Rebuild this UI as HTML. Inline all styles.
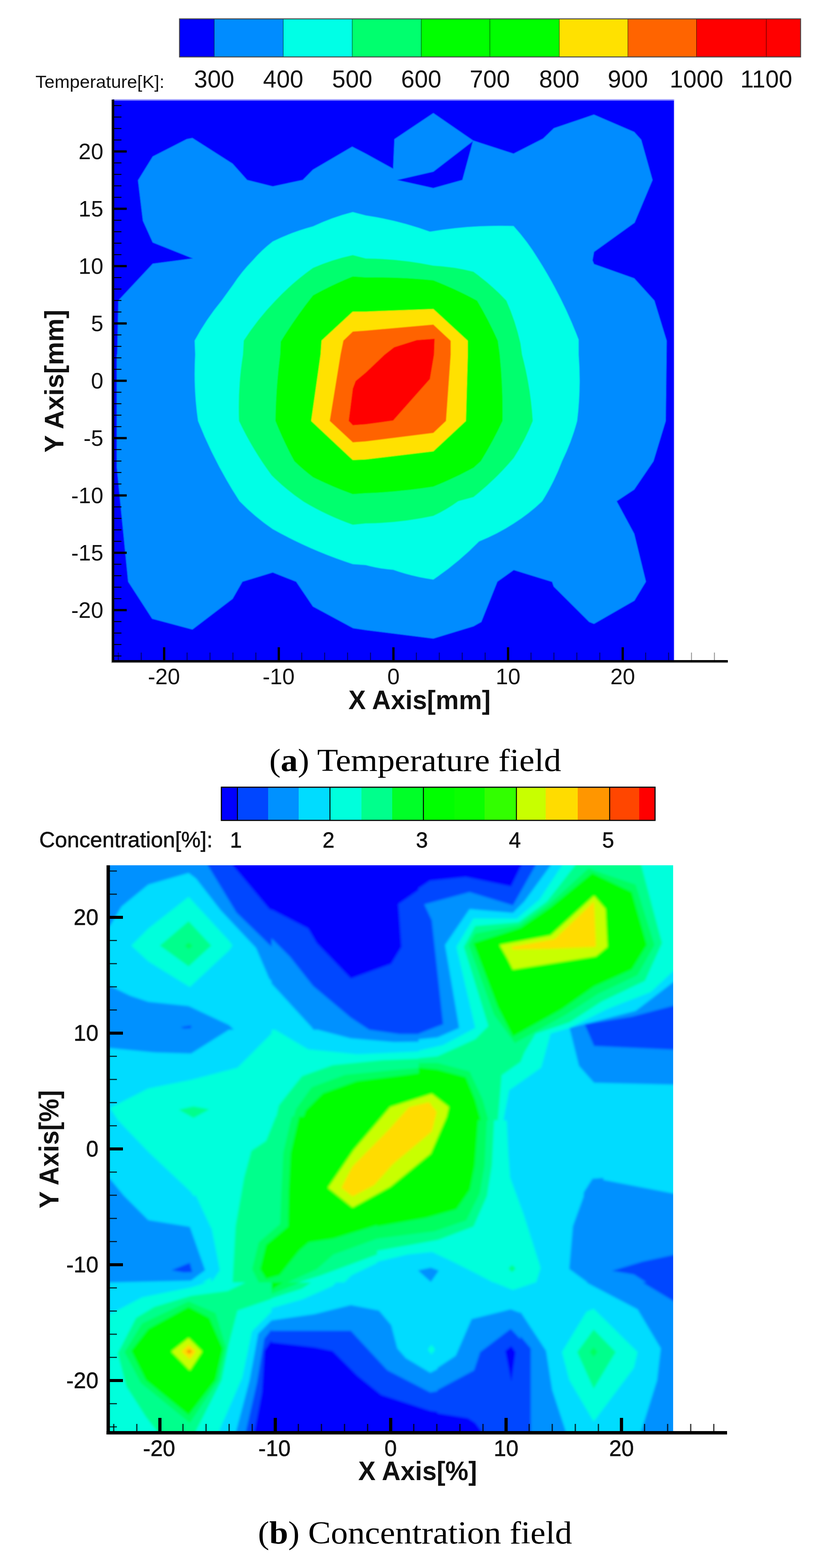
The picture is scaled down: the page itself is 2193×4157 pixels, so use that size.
<!DOCTYPE html>
<html><head><meta charset="utf-8"><title>Temperature and concentration fields</title>
<style>
html,body{margin:0;padding:0;background:#fff;}
body{width:2193px;height:4157px;overflow:hidden;}
svg{display:block;}
text{font-family:"Liberation Sans","DejaVu Sans",sans-serif;fill:#111;}
.cap{font-family:"Liberation Serif","DejaVu Serif",serif;fill:#000;}
</style></head><body>
<svg width="2193" height="4157" viewBox="0 0 2193 4157">
<rect x="0" y="0" width="2193" height="4157" fill="#fff"/>
<g id="plot1">
<defs><clipPath id="p1clip"><rect x="298.5" y="263.5" width="1488.5" height="1490.5"/></clipPath>
<filter id="blur1" x="-5%" y="-5%" width="110%" height="110%"><feGaussianBlur stdDeviation="1.1"/></filter></defs>
<rect x="298.5" y="263.5" width="1491.5" height="1490.5" fill="#e4e4ff"/>
<g clip-path="url(#p1clip)"><g filter="url(#blur1)">
<rect x="278.5" y="243.5" width="1528.5" height="1530.5" fill="#0000ff"/>
<polygon points="311.0,940.0 314.0,797.9 317.5,792.9 405.1,699.3 511.7,685.3 405.1,642.8 379.1,585.2 366.1,478.2 405.1,415.1 495.2,369.1 510.2,366.1 616.7,434.1 655.3,477.2 723.3,494.2 802.9,477.2 829.9,450.1 934.0,389.1 970.0,407.6 1042.6,447.6 1046.1,369.1 1149.1,300.0 1254.2,372.6 1361.8,407.6 1440.3,367.6 1468.9,340.1 1574.9,304.0 1681.7,350.1 1700.2,370.6 1730.2,477.2 1682.7,590.2 1575.1,667.8 1571.1,690.3 1575.1,700.3 1681.7,737.9 1735.2,796.9 1767.7,903.5 1765.2,1116.1 1732.7,1222.7 1681.7,1297.8 1635.1,1328.8 1681.7,1415.3 1712.7,1541.9 1681.7,1593.0 1681.7,1592.6 1575.1,1653.7 1562.6,1648.7 1468.5,1555.1 1464.0,1542.1 1462.9,1542.1 1362.3,1511.1 1318.8,1542.1 1276.2,1648.7 1255.7,1660.2 1149.1,1692.7 970.0,1670.2 936.5,1665.2 829.9,1607.7 785.4,1542.1 723.3,1517.6 642.8,1542.1 616.7,1587.6 510.2,1668.7 403.6,1640.2 340.0,1542.1 310.0,1240.2 310.0,940.0" fill="#008cff" />
<polygon points="1052.6,477.2 1149.1,455.1 1254.2,374.1 1226.2,477.2 1149.1,498.7" fill="#0000ff" />
<path d="M517.7,940.0 L516.2,903.0 Q546.6,846.4 587.7,796.9 L617.7,755.4 Q640.8,720.2 670.3,690.3 Q694.3,662.6 723.3,640.3 Q774.6,614.9 829.9,600.3 Q880.8,576.0 935.5,562.2 L970.0,571.2 Q1057.2,584.2 1140.1,614.3 Q1250.2,595.7 1361.8,599.2 Q1399.2,640.2 1427.8,687.8 Q1491.8,788.8 1534.4,900.5 L1534.4,940.0 Q1541.2,1028.3 1530.4,1116.1 Q1515.7,1171.4 1490.4,1222.7 Q1469.4,1278.4 1437.8,1328.8 Q1403.0,1362.1 1362.3,1387.8 Q1318.6,1416.2 1270.2,1435.4 Q1214.7,1492.0 1149.1,1536.4 Q1094.5,1528.8 1042.6,1510.4 Q1005.7,1507.8 970.0,1497.9 L935.5,1495.4 Q824.8,1459.7 723.3,1402.8 Q675.6,1370.2 635.3,1328.8 Q569.6,1228.0 525.2,1116.1 Q512.6,1028.4 517.7,940.0 L517.7,940.0Z" fill="#00ffe6"/>
<path d="M644.3,940.0 L646.3,903.0 Q683.0,845.7 730.3,796.9 Q775.8,748.6 829.9,710.3 Q881.0,688.0 935.5,676.3 L970.0,685.3 Q1060.5,685.9 1149.1,704.3 Q1203.0,707.0 1255.2,720.3 Q1302.8,754.2 1342.8,796.9 Q1367.2,851.8 1380.3,910.5 L1384.3,940.0 Q1407.4,1026.6 1412.8,1116.1 Q1392.5,1167.7 1362.3,1214.2 Q1314.2,1271.3 1255.7,1317.8 L1215.2,1328.8 Q1184.1,1351.6 1149.1,1367.8 Q1060.6,1386.8 970.0,1387.8 L935.5,1391.3 Q867.4,1367.3 805.4,1330.3 Q759.3,1299.5 720.3,1260.2 Q669.8,1192.5 633.8,1116.1 Q630.2,1027.5 644.3,940.0 L644.3,940.0Z" fill="#00ff6e"/>
<path d="M742.8,940.0 L744.3,905.5 Q783.4,841.6 829.9,782.9 Q881.2,754.7 935.5,732.8 L970.0,735.3 Q1059.8,733.7 1149.1,742.9 Q1208.8,766.4 1265.2,796.9 Q1295.9,848.5 1320.3,903.5 L1325.3,940.0 Q1334.3,1027.8 1332.8,1116.1 Q1307.2,1171.1 1275.2,1222.7 L1255.7,1240.2 Q1203.9,1268.4 1149.1,1290.3 Q1060.1,1304.4 970.0,1307.8 L935.5,1310.3 Q881.3,1290.9 829.9,1265.2 Q803.9,1245.5 780.4,1222.7 Q752.1,1170.9 730.3,1116.1 Q731.3,1027.7 742.8,940.0 L742.8,940.0Z" fill="#00ff00"/>
<polygon points="850.4,940.0 852.9,903.0 935.5,826.4 970.0,826.4 1149.1,819.4 1240.2,903.5 1240.2,940.0 1235.2,1116.1 1149.1,1196.2 970.0,1217.7 935.5,1219.2 825.4,1116.1 850.4,940.0" fill="#ffe100" />
<polygon points="903.0,940.0 910.5,903.0 935.5,879.0 970.0,876.5 1149.1,860.4 1195.2,903.5 1195.2,940.0 1182.7,1116.1 1149.1,1147.7 970.0,1170.2 935.5,1172.7 874.4,1116.1 903.0,940.0" fill="#ff6400" />
<polygon points="1020.0,940.0 1045.1,920.5 1105.1,901.5 1152.6,898.0 1151.1,940.0 1140.1,1005.0 1042.6,1115.1 970.0,1125.1 935.5,1127.6 924.5,1116.1 935.5,1030.1 943.0,1010.1 970.0,987.5" fill="#ff0000" />
</g>
<rect x="298.5" y="263.5" width="1488.5" height="3" fill="#a8a8ff"/>
</g>
<g stroke="#000" fill="none">
<line x1="296" y1="264" x2="296" y2="1757" stroke-width="2" stroke="#999"/>
<line x1="300" y1="264" x2="300" y2="1756" stroke-width="6"/>
<line x1="295" y1="1757" x2="1930" y2="1757" stroke-width="2" stroke="#bbb"/>
<line x1="297" y1="1753" x2="1930" y2="1753" stroke-width="6"/>
<line x1="300" y1="1739.1" x2="322" y2="1739.1" stroke-width="2.5"/>
<line x1="300" y1="1708.7" x2="322" y2="1708.7" stroke-width="2.5"/>
<line x1="300" y1="1678.3" x2="322" y2="1678.3" stroke-width="2.5"/>
<line x1="300" y1="1647.9" x2="322" y2="1647.9" stroke-width="2.5"/>
<line x1="300" y1="1617.5" x2="336" y2="1617.5" stroke-width="6"/>
<line x1="300" y1="1587.1" x2="322" y2="1587.1" stroke-width="2.5"/>
<line x1="300" y1="1556.7" x2="322" y2="1556.7" stroke-width="2.5"/>
<line x1="300" y1="1526.3" x2="322" y2="1526.3" stroke-width="2.5"/>
<line x1="300" y1="1495.9" x2="322" y2="1495.9" stroke-width="2.5"/>
<line x1="300" y1="1465.5" x2="336" y2="1465.5" stroke-width="6"/>
<line x1="300" y1="1435.1" x2="322" y2="1435.1" stroke-width="2.5"/>
<line x1="300" y1="1404.7" x2="322" y2="1404.7" stroke-width="2.5"/>
<line x1="300" y1="1374.3" x2="322" y2="1374.3" stroke-width="2.5"/>
<line x1="300" y1="1343.9" x2="322" y2="1343.9" stroke-width="2.5"/>
<line x1="300" y1="1313.5" x2="336" y2="1313.5" stroke-width="6"/>
<line x1="300" y1="1283.1" x2="322" y2="1283.1" stroke-width="2.5"/>
<line x1="300" y1="1252.7" x2="322" y2="1252.7" stroke-width="2.5"/>
<line x1="300" y1="1222.3" x2="322" y2="1222.3" stroke-width="2.5"/>
<line x1="300" y1="1191.9" x2="322" y2="1191.9" stroke-width="2.5"/>
<line x1="300" y1="1161.5" x2="336" y2="1161.5" stroke-width="6"/>
<line x1="300" y1="1131.1" x2="322" y2="1131.1" stroke-width="2.5"/>
<line x1="300" y1="1100.7" x2="322" y2="1100.7" stroke-width="2.5"/>
<line x1="300" y1="1070.3" x2="322" y2="1070.3" stroke-width="2.5"/>
<line x1="300" y1="1039.9" x2="322" y2="1039.9" stroke-width="2.5"/>
<line x1="300" y1="1009.5" x2="336" y2="1009.5" stroke-width="6"/>
<line x1="300" y1="979.1" x2="322" y2="979.1" stroke-width="2.5"/>
<line x1="300" y1="948.7" x2="322" y2="948.7" stroke-width="2.5"/>
<line x1="300" y1="918.3" x2="322" y2="918.3" stroke-width="2.5"/>
<line x1="300" y1="887.9" x2="322" y2="887.9" stroke-width="2.5"/>
<line x1="300" y1="857.5" x2="336" y2="857.5" stroke-width="6"/>
<line x1="300" y1="827.1" x2="322" y2="827.1" stroke-width="2.5"/>
<line x1="300" y1="796.7" x2="322" y2="796.7" stroke-width="2.5"/>
<line x1="300" y1="766.3" x2="322" y2="766.3" stroke-width="2.5"/>
<line x1="300" y1="735.9" x2="322" y2="735.9" stroke-width="2.5"/>
<line x1="300" y1="705.5" x2="336" y2="705.5" stroke-width="6"/>
<line x1="300" y1="675.1" x2="322" y2="675.1" stroke-width="2.5"/>
<line x1="300" y1="644.7" x2="322" y2="644.7" stroke-width="2.5"/>
<line x1="300" y1="614.3" x2="322" y2="614.3" stroke-width="2.5"/>
<line x1="300" y1="583.9" x2="322" y2="583.9" stroke-width="2.5"/>
<line x1="300" y1="553.5" x2="336" y2="553.5" stroke-width="6"/>
<line x1="300" y1="523.1" x2="322" y2="523.1" stroke-width="2.5"/>
<line x1="300" y1="492.7" x2="322" y2="492.7" stroke-width="2.5"/>
<line x1="300" y1="462.3" x2="322" y2="462.3" stroke-width="2.5"/>
<line x1="300" y1="431.9" x2="322" y2="431.9" stroke-width="2.5"/>
<line x1="300" y1="401.5" x2="336" y2="401.5" stroke-width="6"/>
<line x1="300" y1="371.1" x2="322" y2="371.1" stroke-width="2.5"/>
<line x1="300" y1="340.7" x2="322" y2="340.7" stroke-width="2.5"/>
<line x1="300" y1="310.3" x2="322" y2="310.3" stroke-width="2.5"/>
<line x1="300" y1="279.9" x2="322" y2="279.9" stroke-width="2.5"/>
<line x1="313.7" y1="1730" x2="313.7" y2="1753" stroke-width="2.5" stroke="#000" stroke-opacity="0.55"/>
<line x1="374.5" y1="1730" x2="374.5" y2="1753" stroke-width="2.5" stroke="#000" stroke-opacity="0.55"/>
<line x1="435.3" y1="1716" x2="435.3" y2="1753" stroke-width="6"/>
<line x1="496.1" y1="1730" x2="496.1" y2="1753" stroke-width="2.5" stroke="#000" stroke-opacity="0.55"/>
<line x1="556.9" y1="1730" x2="556.9" y2="1753" stroke-width="2.5" stroke="#000" stroke-opacity="0.55"/>
<line x1="617.7" y1="1730" x2="617.7" y2="1753" stroke-width="2.5" stroke="#000" stroke-opacity="0.55"/>
<line x1="678.5" y1="1730" x2="678.5" y2="1753" stroke-width="2.5" stroke="#000" stroke-opacity="0.55"/>
<line x1="739.3" y1="1716" x2="739.3" y2="1753" stroke-width="6"/>
<line x1="800.1" y1="1730" x2="800.1" y2="1753" stroke-width="2.5" stroke="#000" stroke-opacity="0.55"/>
<line x1="860.9" y1="1730" x2="860.9" y2="1753" stroke-width="2.5" stroke="#000" stroke-opacity="0.55"/>
<line x1="921.7" y1="1730" x2="921.7" y2="1753" stroke-width="2.5" stroke="#000" stroke-opacity="0.55"/>
<line x1="982.5" y1="1730" x2="982.5" y2="1753" stroke-width="2.5" stroke="#000" stroke-opacity="0.55"/>
<line x1="1043.3" y1="1716" x2="1043.3" y2="1753" stroke-width="6"/>
<line x1="1104.1" y1="1730" x2="1104.1" y2="1753" stroke-width="2.5" stroke="#000" stroke-opacity="0.55"/>
<line x1="1164.9" y1="1730" x2="1164.9" y2="1753" stroke-width="2.5" stroke="#000" stroke-opacity="0.55"/>
<line x1="1225.7" y1="1730" x2="1225.7" y2="1753" stroke-width="2.5" stroke="#000" stroke-opacity="0.55"/>
<line x1="1286.5" y1="1730" x2="1286.5" y2="1753" stroke-width="2.5" stroke="#000" stroke-opacity="0.55"/>
<line x1="1347.3" y1="1716" x2="1347.3" y2="1753" stroke-width="6"/>
<line x1="1408.1" y1="1730" x2="1408.1" y2="1753" stroke-width="2.5" stroke="#000" stroke-opacity="0.55"/>
<line x1="1468.9" y1="1730" x2="1468.9" y2="1753" stroke-width="2.5" stroke="#000" stroke-opacity="0.55"/>
<line x1="1529.7" y1="1730" x2="1529.7" y2="1753" stroke-width="2.5" stroke="#000" stroke-opacity="0.55"/>
<line x1="1590.5" y1="1730" x2="1590.5" y2="1753" stroke-width="2.5" stroke="#000" stroke-opacity="0.55"/>
<line x1="1651.3" y1="1716" x2="1651.3" y2="1753" stroke-width="6"/>
<line x1="1712.1" y1="1730" x2="1712.1" y2="1753" stroke-width="2.5" stroke="#000" stroke-opacity="0.55"/>
<line x1="1772.9" y1="1730" x2="1772.9" y2="1753" stroke-width="2.5" stroke="#000" stroke-opacity="0.55"/>
<line x1="1833.7" y1="1730" x2="1833.7" y2="1753" stroke-width="2.5" stroke="#000" stroke-opacity="0.4"/>
<line x1="1894.5" y1="1730" x2="1894.5" y2="1753" stroke-width="2.5" stroke="#000" stroke-opacity="0.4"/>
</g>
<text x="274" y="1638.0" font-size="59" text-anchor="end">-20</text>
<text x="274" y="1486.0" font-size="59" text-anchor="end">-15</text>
<text x="274" y="1334.0" font-size="59" text-anchor="end">-10</text>
<text x="274" y="1182.0" font-size="59" text-anchor="end">-5</text>
<text x="274" y="1030.0" font-size="59" text-anchor="end">0</text>
<text x="274" y="878.0" font-size="59" text-anchor="end">5</text>
<text x="274" y="726.0" font-size="59" text-anchor="end">10</text>
<text x="274" y="574.0" font-size="59" text-anchor="end">15</text>
<text x="274" y="422.0" font-size="59" text-anchor="end">20</text>
<text x="434.8" y="1813.5" font-size="59" text-anchor="middle">-20</text>
<text x="738.8" y="1813.5" font-size="59" text-anchor="middle">-10</text>
<text x="1043.3" y="1813.5" font-size="59" text-anchor="middle">0</text>
<text x="1347.3" y="1813.5" font-size="59" text-anchor="middle">10</text>
<text x="1651.3" y="1813.5" font-size="59" text-anchor="middle">20</text>
<text x="924" y="1879.5" font-size="71" font-weight="bold" textLength="377" lengthAdjust="spacingAndGlyphs">X Axis[mm]</text>
<text transform="translate(167.5,1200) rotate(-90)" font-size="71" font-weight="bold" textLength="379" lengthAdjust="spacingAndGlyphs">Y Axis[mm]</text>
<rect x="476" y="50" width="93" height="101" fill="#0000ff"/>
<rect x="568" y="50" width="184" height="101" fill="#008cff"/>
<rect x="751" y="50" width="184" height="101" fill="#00ffe6"/>
<rect x="934" y="50" width="184" height="101" fill="#00ff6e"/>
<rect x="1117" y="50" width="183" height="101" fill="#00ff00"/>
<rect x="1299" y="50" width="185" height="101" fill="#00ff00"/>
<rect x="1483" y="50" width="183" height="101" fill="#ffe100"/>
<rect x="1665" y="50" width="183" height="101" fill="#ff6400"/>
<rect x="1847" y="50" width="186" height="101" fill="#ff0000"/>
<rect x="2032" y="50" width="92" height="101" fill="#ff0000"/>
<line x1="568" y1="50" x2="568" y2="151" stroke="#000" stroke-opacity="0.45" stroke-width="2"/>
<line x1="751" y1="50" x2="751" y2="151" stroke="#000" stroke-opacity="0.45" stroke-width="2"/>
<line x1="934" y1="50" x2="934" y2="151" stroke="#000" stroke-opacity="0.45" stroke-width="2"/>
<line x1="1117" y1="50" x2="1117" y2="151" stroke="#000" stroke-opacity="0.45" stroke-width="2"/>
<line x1="1299" y1="50" x2="1299" y2="151" stroke="#000" stroke-opacity="0.45" stroke-width="2"/>
<line x1="1483" y1="50" x2="1483" y2="151" stroke="#000" stroke-opacity="0.45" stroke-width="2"/>
<line x1="1665" y1="50" x2="1665" y2="151" stroke="#000" stroke-opacity="0.45" stroke-width="2"/>
<line x1="1847" y1="50" x2="1847" y2="151" stroke="#000" stroke-opacity="0.45" stroke-width="2"/>
<line x1="2032" y1="50" x2="2032" y2="151" stroke="#000" stroke-opacity="0.45" stroke-width="2"/>
<rect x="476" y="50" width="1647" height="101" fill="none" stroke="#444" stroke-width="2.5"/>
<text x="568" y="232" font-size="64" text-anchor="middle">300</text>
<text x="751" y="232" font-size="64" text-anchor="middle">400</text>
<text x="934" y="232" font-size="64" text-anchor="middle">500</text>
<text x="1117" y="232" font-size="64" text-anchor="middle">600</text>
<text x="1299" y="232" font-size="64" text-anchor="middle">700</text>
<text x="1483" y="232" font-size="64" text-anchor="middle">800</text>
<text x="1665" y="232" font-size="64" text-anchor="middle">900</text>
<text x="1847" y="232" font-size="64" text-anchor="middle">1000</text>
<text x="2032" y="232" font-size="64" text-anchor="middle">1100</text>
<text x="94" y="233" font-size="46" textLength="342" lengthAdjust="spacingAndGlyphs">Temperature[K]:</text>
<text class="cap" x="714" y="2044" font-size="85" textLength="774" lengthAdjust="spacingAndGlyphs">(<tspan font-weight="bold">a</tspan>) Temperature field</text>
</g>
<defs>
<clipPath id="p2clip"><rect x="286.5" y="2294.0" width="1498.5" height="1504.0"/></clipPath>
<clipPath id="t0"><rect x="260.0" y="2270.0" width="460.0" height="460.0"/></clipPath>
<clipPath id="t1"><rect x="720.0" y="2270.0" width="440.0" height="460.0"/></clipPath>
<clipPath id="t2"><rect x="1160.0" y="2270.0" width="220.0" height="460.0"/></clipPath>
<clipPath id="t3"><rect x="1380.0" y="2270.0" width="430.0" height="460.0"/></clipPath>
<clipPath id="t4"><rect x="260.0" y="2730.0" width="460.0" height="440.0"/></clipPath>
<clipPath id="t5"><rect x="720.0" y="2730.0" width="440.0" height="440.0"/></clipPath>
<clipPath id="t6"><rect x="1160.0" y="2730.0" width="440.0" height="440.0"/></clipPath>
<clipPath id="t7"><rect x="1600.0" y="2730.0" width="210.0" height="440.0"/></clipPath>
<clipPath id="t8"><rect x="260.0" y="3170.0" width="460.0" height="230.0"/></clipPath>
<clipPath id="t9"><rect x="720.0" y="3170.0" width="440.0" height="230.0"/></clipPath>
<clipPath id="t10"><rect x="1160.0" y="3170.0" width="220.0" height="230.0"/></clipPath>
<clipPath id="t11"><rect x="1380.0" y="3170.0" width="430.0" height="230.0"/></clipPath>
<clipPath id="t12"><rect x="260.0" y="3400.0" width="460.0" height="420.0"/></clipPath>
<clipPath id="t13"><rect x="720.0" y="3400.0" width="440.0" height="420.0"/></clipPath>
<clipPath id="t14"><rect x="1160.0" y="3400.0" width="220.0" height="420.0"/></clipPath>
<clipPath id="t15"><rect x="1380.0" y="3400.0" width="430.0" height="420.0"/></clipPath>
<clipPath id="t16"><rect x="560.0" y="2960.0" width="440.0" height="440.0"/></clipPath>
<clipPath id="t17"><rect x="1000.0" y="2960.0" width="440.0" height="440.0"/></clipPath>
<clipPath id="t18"><rect x="1110.0" y="2270.0" width="700.0" height="700.0"/></clipPath>
<filter id="blur2" x="-5%" y="-5%" width="110%" height="110%"><feGaussianBlur stdDeviation="3"/></filter>
</defs>
<g id="plot2">
<g clip-path="url(#p2clip)"><g filter="url(#blur2)">
<g clip-path="url(#t0)">
<rect x="259.0" y="2269.0" width="462.0" height="462.0" fill="#00dcff"/>
<polygon points="263.8,2273.8 733.3,2273.8 733.3,2617.0 713.8,2594.0 678.9,2513.1 585.0,2413.0 519.9,2328.9 500.2,2314.3 393.3,2345.0 322.1,2403.3 291.3,2455.1 263.8,2471.3" fill="#0091ff" />
<polygon points="263.8,2613.8 291.3,2613.8 344.8,2639.7 393.3,2655.9 500.2,2667.2 607.3,2717.4 620.0,2730.0 629.7,2743.3 263.8,2743.3" fill="#0091ff" />
<polygon points="551.0,2273.8 551.0,2293.9 627.1,2419.5 727.1,2516.6 733.3,2523.1 733.3,2273.8" fill="#0046ff" />
<polygon points="617.0,2273.8 617.0,2293.9 713.8,2409.8 733.3,2419.5 733.3,2273.8" fill="#0000ff" />
<polygon points="348.0,2506.9 393.3,2461.6 500.2,2377.4 607.3,2494.0 616.7,2506.9 607.3,2519.9 503.4,2617.0 393.3,2549.0" fill="#00ffdc" />
<polygon points="424.1,2506.9 500.2,2442.2 560.1,2506.9 500.2,2562.0" fill="#00ff8c" />
<polygon points="490.4,2507.6 500.2,2498.8 510.5,2507.6 500.2,2516.6" fill="#00ff5f" />
<polygon points="479.1,2723.2 506.6,2719.0 506.6,2725.5 487.2,2726.4" fill="#0046ff" />
</g>
<g clip-path="url(#t1)">
<rect x="719.0" y="2269.0" width="442.0" height="462.0" fill="#0000ff"/>
<polygon points="703.8,2403.3 720.0,2411.4 817.1,2461.6 839.8,2500.4 930.4,2594.3 1037.3,2555.5 1064.8,2510.2 1056.7,2396.8 1140.9,2338.6 1173.3,2335.3 1173.3,2743.3 703.8,2743.3" fill="#0046ff" />
<polygon points="703.8,2477.8 720.0,2487.5 768.6,2536.1 830.1,2613.8 930.4,2697.9 979.0,2730.0 995.2,2743.3 703.8,2743.3" fill="#0091ff" />
<polygon points="1173.3,2380.7 1160.0,2383.9 1124.7,2400.1 1140.9,2458.4 1150.6,2549.0 1160.0,2613.8 1173.3,2617.0" fill="#0091ff" />
<polygon points="703.8,2591.1 720.0,2607.3 826.8,2723.8 839.8,2743.3 703.8,2743.3" fill="#00dcff" />
</g>
<g clip-path="url(#t2)">
<rect x="1159.0" y="2269.0" width="222.0" height="462.0" fill="#0000ff"/>
<polygon points="1143.8,2335.3 1160.0,2335.3 1257.1,2322.4 1357.5,2351.5 1383.4,2293.9 1383.4,2273.8 1613.3,2273.8 1613.3,2743.3 1143.8,2743.3" fill="#0046ff" />
<polygon points="1143.8,2383.9 1160.0,2383.9 1250.7,2362.8 1357.5,2403.3 1425.5,2293.9 1425.5,2273.8 1613.3,2273.8 1613.3,2743.3 1143.8,2743.3" fill="#0091ff" />
<polygon points="1143.8,2607.3 1160.0,2613.8 1173.0,2678.5 1179.4,2743.3 1143.8,2743.3" fill="#0046ff" />
<polygon points="1218.3,2743.3 1215.0,2710.9 1179.4,2503.7 1247.4,2406.6 1354.3,2422.7 1396.4,2380.7 1464.3,2293.9 1464.3,2273.8 1613.3,2273.8 1613.3,2743.3" fill="#00dcff" />
<polygon points="1266.8,2743.3 1266.8,2730.0 1234.5,2613.8 1208.6,2516.6 1260.4,2432.5 1367.2,2429.2 1425.5,2377.4 1503.2,2293.9 1503.2,2273.8 1613.3,2273.8 1613.3,2743.3" fill="#00ffdc" />
<polygon points="1302.5,2743.3 1299.2,2730.0 1224.8,2510.2 1266.8,2451.9 1373.7,2442.2 1451.4,2380.7 1548.5,2293.9 1548.5,2273.8 1613.3,2273.8 1613.3,2743.3" fill="#00ff8c" />
<polygon points="1318.6,2743.3 1317.0,2730.0 1236.1,2513.4 1278.2,2458.4 1380.2,2447.0 1459.5,2383.9 1563.1,2293.9 1563.1,2273.8 1613.3,2273.8 1613.3,2743.3" fill="#00ff5f" />
<polygon points="1334.8,2743.3 1334.8,2730.0 1247.4,2516.6 1289.5,2464.8 1386.6,2451.9 1467.6,2387.1 1577.7,2293.9 1577.7,2273.8 1613.3,2273.8 1613.3,2743.3" fill="#00ff00" />
<polygon points="1321.9,2510.2 1354.3,2497.2 1451.4,2477.8 1613.3,2471.3 1613.3,2555.5 1435.2,2552.3 1354.3,2568.4 1341.3,2536.1" fill="#c8ff00" />
<polygon points="1354.3,2513.4 1467.6,2484.3 1613.3,2481.0 1613.3,2516.6 1451.4,2516.6 1367.2,2519.9" fill="#ffdc00" />
</g>
<g clip-path="url(#t3)">
<rect x="1379.0" y="2269.0" width="432.0" height="462.0" fill="#00ffdc"/>
<polygon points="1503.0,2273.8 1503.0,2293.9 1422.1,2377.4 1380.0,2409.8 1363.8,2419.5 1363.8,2273.8" fill="#00dcff" />
<polygon points="1464.2,2273.8 1464.2,2293.9 1399.4,2364.5 1380.0,2377.4 1363.8,2387.1 1363.8,2273.8" fill="#0091ff" />
<polygon points="1425.3,2273.8 1425.3,2293.9 1380.0,2351.5 1363.8,2367.7 1363.8,2273.8" fill="#0046ff" />
<polygon points="1386.5,2273.8 1386.5,2293.9 1380.0,2303.0 1363.8,2309.4 1363.8,2273.8" fill="#0000ff" />
<polygon points="1833.3,2529.6 1784.7,2536.1 1736.1,2597.6 1587.2,2672.0 1503.0,2730.0 1490.1,2743.3 1833.3,2743.3" fill="#00dcff" />
<polygon points="1833.3,2568.4 1784.7,2574.9 1703.8,2642.9 1587.2,2691.5 1525.7,2730.0 1509.5,2743.3 1833.3,2743.3" fill="#0091ff" />
<polygon points="1833.3,2655.9 1784.7,2662.3 1671.4,2701.2 1587.2,2707.7 1554.8,2730.0 1541.9,2743.3 1833.3,2743.3" fill="#0046ff" />
<polygon points="1363.8,2432.5 1380.0,2426.0 1460.9,2364.5 1548.4,2293.9 1548.4,2273.8 1681.1,2273.8 1681.1,2293.9 1707.0,2354.8 1749.1,2458.4 1758.8,2497.2 1703.8,2558.7 1574.3,2626.7 1460.9,2730.0 1444.8,2743.3 1363.8,2743.3" fill="#00ff8c" />
<polygon points="1363.8,2438.9 1380.0,2430.8 1482.0,2359.6 1561.3,2306.2 1574.3,2303.0 1677.9,2370.9 1728.1,2464.8 1737.8,2500.4 1687.6,2553.9 1577.5,2618.6 1444.8,2730.0 1428.6,2743.3 1363.8,2743.3" fill="#00ff5f" />
<polygon points="1363.8,2445.4 1380.0,2435.7 1503.0,2354.8 1574.3,2319.1 1671.4,2387.1 1707.0,2471.3 1716.7,2503.7 1671.4,2549.0 1580.7,2610.5 1428.6,2730.0 1412.4,2743.3 1363.8,2743.3" fill="#00ff00" />
<polygon points="1363.8,2497.2 1380.0,2494.0 1460.9,2481.0 1574.3,2374.2 1600.2,2396.8 1609.9,2510.2 1580.7,2539.3 1460.9,2549.0 1380.0,2558.7 1363.8,2560.3" fill="#c8ff00" />
<polygon points="1363.8,2510.2 1380.0,2506.9 1470.7,2494.0 1571.0,2393.6 1580.7,2400.1 1580.7,2513.4 1460.9,2516.6 1380.0,2523.1 1363.8,2524.7" fill="#ffdc00" />
</g>
<g clip-path="url(#t4)">
<rect x="259.0" y="2729.0" width="462.0" height="442.0" fill="#00dcff"/>
<polygon points="263.8,2775.3 291.3,2778.6 409.5,2789.9 506.6,2793.1 607.0,2730.0 607.0,2713.8 263.8,2713.8" fill="#0091ff" />
<polygon points="291.3,2937.2 393.3,2885.4 506.6,2862.7 629.7,2830.4 720.0,2739.7 733.3,2730.0 733.3,3183.3 519.6,3183.3 506.6,3160.6 393.3,3053.8 312.4,2969.6" fill="#00ffdc" />
<polygon points="474.3,2942.1 513.1,2933.3 555.2,2941.1 513.1,2963.8" fill="#00ff8c" />
<polygon points="733.3,3014.9 720.0,3021.4 668.5,3050.5 629.7,3170.0 626.4,3183.3 733.3,3183.3" fill="#00ff8c" />
<polygon points="263.8,3118.5 291.3,3125.0 328.6,3170.0 338.3,3183.3 263.8,3183.3" fill="#0091ff" />
</g>
<g clip-path="url(#t5)">
<rect x="719.0" y="2729.0" width="442.0" height="442.0" fill="#00ffdc"/>
<polygon points="729.7,2713.8 729.7,2730.0 817.1,2781.8 946.6,2794.8 1173.3,2785.0 1173.3,2713.8" fill="#00dcff" />
<polygon points="843.0,2713.8 843.0,2730.0 930.4,2752.7 1043.8,2762.4 1173.3,2760.8 1173.3,2713.8" fill="#0091ff" />
<polygon points="979.0,2713.8 979.0,2730.0 1060.0,2741.3 1173.3,2741.3 1173.3,2713.8" fill="#0046ff" />
<polygon points="703.8,3027.9 720.0,3021.4 739.4,2930.7 800.9,2853.0 881.9,2823.9 1011.4,2810.9 1173.3,2803.8 1173.3,3183.3 703.8,3183.3" fill="#00ff8c" />
<polygon points="752.4,3183.3 752.4,3170.0 762.1,3021.4 784.8,2940.4 826.8,2882.2 914.3,2849.8 1043.8,2836.8 1173.3,2826.5 1173.3,3183.3" fill="#00ff5f" />
<polygon points="775.0,3183.3 775.0,3170.0 784.8,3021.4 810.7,2943.7 856.0,2898.4 946.6,2866.0 1076.1,2849.8 1173.3,2836.2 1173.3,3183.3" fill="#00ff00" />
</g>
<g clip-path="url(#t6)">
<rect x="1159.0" y="2729.0" width="442.0" height="442.0" fill="#00dcff"/>
<polygon points="1509.7,2713.8 1509.7,2730.0 1519.4,2778.6 1532.3,2827.1 1580.9,2872.5 1613.3,2875.7 1613.3,2713.8" fill="#0091ff" />
<polygon points="1555.0,2713.8 1555.0,2730.0 1577.7,2772.1 1613.3,2775.3 1613.3,2713.8" fill="#0046ff" />
<polygon points="1613.3,3121.8 1571.2,3125.0 1548.5,3160.6 1545.3,3183.3 1613.3,3183.3" fill="#0091ff" />
<polygon points="1266.8,2713.8 1266.8,2730.0 1208.6,2762.4 1160.0,2791.5 1143.8,2798.0 1143.8,3183.3 1360.7,3183.3 1360.7,3170.0 1344.5,3053.8 1341.3,2940.4 1354.3,2888.6 1441.7,2827.1 1461.1,2730.0 1461.1,2713.8" fill="#00ffdc" />
<polygon points="1143.8,2713.8 1208.6,2713.8 1202.1,2730.0 1160.0,2752.7 1143.8,2755.9" fill="#0091ff" />
<polygon points="1299.2,2713.8 1299.2,2730.0 1240.9,2772.1 1160.0,2807.7 1143.8,2810.9 1143.8,3183.3 1302.5,3183.3 1302.5,3170.0 1312.2,3053.8 1315.4,2924.3 1334.8,2853.0 1386.6,2810.9 1412.5,2730.0 1412.5,2713.8" fill="#00ff8c" />
<polygon points="1143.8,2817.4 1160.0,2817.4 1224.8,2827.1 1270.1,2859.5 1289.5,2924.3 1296.0,2989.0 1279.8,3086.1 1263.6,3170.0 1260.4,3183.3 1143.8,3183.3" fill="#00ff5f" />
<polygon points="1143.8,2823.9 1160.0,2827.1 1224.8,2836.8 1257.1,2866.0 1270.1,2924.3 1279.8,2989.0 1257.1,3086.1 1224.8,3170.0 1221.5,3183.3 1143.8,3183.3" fill="#00ff00" />
<polygon points="1334.8,2713.8 1341.3,2730.0 1357.5,2749.4 1373.7,2730.0 1380.2,2713.8" fill="#00ff00" />
</g>
<g clip-path="url(#t7)">
<rect x="1599.0" y="2729.0" width="212.0" height="442.0" fill="#00dcff"/>
<polygon points="1509.5,2713.8 1509.5,2730.0 1532.2,2827.1 1574.3,2872.5 1800.9,2877.3 1800.9,2713.8" fill="#0091ff" />
<polygon points="1554.8,2713.8 1554.8,2730.0 1574.3,2772.1 1800.9,2785.7 1800.9,2713.8" fill="#0046ff" />
<polygon points="1545.1,3183.3 1554.8,3150.9 1574.3,3123.4 1800.9,3167.1 1800.9,3183.3" fill="#0091ff" />
</g>
<g clip-path="url(#t8)">
<rect x="259.0" y="3169.0" width="462.0" height="232.0" fill="#00dcff"/>
<polygon points="263.8,3153.8 325.3,3153.8 328.6,3170.0 393.3,3234.8 503.4,3252.6 543.9,3367.5 506.6,3395.0 291.3,3399.9 263.8,3400.5" fill="#0091ff" />
<polygon points="454.8,3367.5 503.4,3348.1 509.9,3372.4 487.2,3373.3" fill="#0046ff" />
<polygon points="519.6,3153.8 519.6,3170.0 564.9,3267.1 581.1,3364.3 571.4,3380.4 506.6,3416.1 377.1,3445.2 291.3,3480.8 263.8,3487.3 263.8,3623.3 733.3,3623.3 733.3,3153.8" fill="#00ffdc" />
<polygon points="629.7,3153.8 629.7,3170.0 616.7,3299.5 600.5,3403.1 506.6,3438.7 409.5,3471.1 328.6,3510.0 299.4,3558.5 291.3,3610.0 289.7,3623.3 733.3,3623.3 733.3,3153.8" fill="#00ff8c" />
<polygon points="662.0,3153.8 662.0,3170.0 645.9,3325.4 652.3,3377.2 720.0,3429.0 733.3,3438.7 733.3,3153.8" fill="#00ff5f" />
<polygon points="678.2,3153.8 678.2,3170.0 662.0,3325.4 668.5,3377.2 720.0,3416.1 733.3,3422.5 733.3,3153.8" fill="#00ff00" />
</g>
<g clip-path="url(#t9)">
<rect x="719.0" y="3169.0" width="442.0" height="232.0" fill="#00ff00"/>
<polygon points="703.8,3153.8 762.1,3153.8 763.7,3170.0 766.9,3250.9 720.0,3293.0 703.8,3299.5" fill="#00ff5f" />
<polygon points="703.8,3403.1 720.0,3396.6 833.3,3346.5 946.6,3299.5 1043.8,3270.4 1160.0,3228.3 1173.3,3223.4 1173.3,3623.3 703.8,3623.3" fill="#00ff5f" />
<polygon points="703.8,3419.3 720.0,3412.8 833.3,3364.3 946.6,3315.7 1043.8,3286.6 1160.0,3247.7 1173.3,3242.8 1173.3,3623.3 703.8,3623.3" fill="#00ff8c" />
<polygon points="703.8,3445.2 720.0,3438.7 849.5,3390.2 946.6,3338.4 1043.8,3312.5 1160.0,3276.8 1173.3,3273.6 1173.3,3623.3 703.8,3623.3" fill="#00ffdc" />
<polygon points="703.8,3474.3 720.0,3467.9 800.9,3445.2 881.9,3409.6 946.6,3370.7 1043.8,3344.8 1108.5,3325.4 1173.3,3320.6 1173.3,3623.3 703.8,3623.3" fill="#00dcff" />
<polygon points="703.8,3500.2 720.0,3497.0 833.3,3484.1 930.4,3459.8 1004.9,3474.3 1037.3,3513.2 1053.5,3574.7 1092.3,3610.0 1105.3,3623.3 703.8,3623.3" fill="#0091ff" />
<polygon points="1108.5,3367.5 1150.6,3359.4 1160.0,3370.7 1142.5,3399.9" fill="#0091ff" />
</g>
<g clip-path="url(#t10)">
<rect x="1159.0" y="3169.0" width="222.0" height="232.0" fill="#00dcff"/>
<polygon points="1143.8,3315.7 1160.0,3322.2 1240.9,3354.5 1354.3,3419.3 1432.0,3370.7 1412.5,3267.1 1367.2,3170.0 1367.2,3153.8 1143.8,3153.8" fill="#00ffdc" />
<polygon points="1143.8,3283.3 1160.0,3280.1 1250.7,3260.7 1296.0,3170.0 1296.0,3153.8 1143.8,3153.8" fill="#00ff8c" />
<polygon points="1143.8,3257.4 1160.0,3254.2 1231.2,3231.5 1263.6,3170.0 1263.6,3153.8 1143.8,3153.8" fill="#00ff5f" />
<polygon points="1143.8,3241.2 1160.0,3234.8 1208.6,3199.1 1234.5,3170.0 1234.5,3153.8 1143.8,3153.8" fill="#00ff00" />
<polygon points="1344.5,3364.3 1357.5,3352.9 1372.1,3364.3 1357.5,3374.0" fill="#00ff8c" />
<polygon points="1545.3,3153.8 1545.3,3170.0 1516.1,3267.1 1509.7,3364.3 1600.0,3422.5 1613.3,3429.0 1613.3,3153.8" fill="#0091ff" />
</g>
<g clip-path="url(#t11)">
<rect x="1379.0" y="3169.0" width="432.0" height="232.0" fill="#00dcff"/>
<polygon points="1363.8,3186.2 1380.0,3212.1 1412.4,3273.6 1431.8,3370.7 1380.0,3403.1 1363.8,3409.6" fill="#00ffdc" />
<polygon points="1548.4,3153.8 1548.4,3170.0 1519.2,3250.9 1509.5,3364.3 1580.7,3416.1 1690.8,3471.1 1752.3,3574.7 1755.6,3623.3 1800.9,3623.3 1800.9,3153.8" fill="#0091ff" />
<polygon points="1622.8,3369.1 1703.8,3344.8 1800.9,3323.8 1800.9,3454.9 1681.1,3378.8" fill="#0046ff" />
</g>
<g clip-path="url(#t12)">
<rect x="259.0" y="3399.0" width="462.0" height="422.0" fill="#00ffdc"/>
<polygon points="263.8,3490.7 291.3,3484.2 377.1,3438.9 506.6,3413.0 603.8,3383.8 263.8,3383.8" fill="#00dcff" />
<polygon points="312.4,3587.8 360.9,3493.9 409.5,3464.8 506.6,3435.6 603.8,3422.7 684.7,3383.8 733.3,3383.8 733.3,3438.9 629.7,3474.5 607.0,3561.9 587.6,3659.0 519.6,3793.4 519.6,3853.3 416.0,3853.3 416.0,3793.4 386.8,3756.1 335.0,3675.2" fill="#00ff8c" />
<polygon points="330.2,3584.5 377.1,3508.5 500.2,3450.2 571.4,3480.9 598.9,3571.6 579.5,3659.0 503.4,3772.3 373.9,3667.1" fill="#00ff5f" />
<polygon points="348.0,3581.3 393.3,3523.0 500.2,3464.8 555.2,3493.9 590.8,3574.8 571.4,3659.0 500.2,3751.3 386.8,3659.0" fill="#00ff00" />
<polygon points="454.8,3582.9 500.2,3547.3 535.8,3582.9 503.4,3633.1" fill="#c8ff00" />
<polygon points="480.7,3582.9 500.2,3565.1 519.6,3582.9 503.4,3604.0" fill="#ffdc00" />
<polygon points="493.7,3582.9 501.8,3576.5 509.9,3582.9 501.8,3589.4" fill="#ff9600" />
<polygon points="733.3,3464.8 720.0,3477.7 668.5,3529.5 642.6,3652.5 581.1,3793.4 581.1,3853.3 733.3,3853.3" fill="#00dcff" />
<polygon points="733.3,3490.7 720.0,3500.4 684.7,3536.0 662.0,3659.0 626.4,3793.4 626.4,3853.3 733.3,3853.3" fill="#0091ff" />
<polygon points="733.3,3513.3 720.0,3524.7 700.9,3548.9 681.5,3665.5 652.3,3793.4 652.3,3853.3 733.3,3853.3" fill="#0046ff" />
<polygon points="733.3,3542.5 720.0,3552.2 700.9,3581.3 694.4,3691.4 675.0,3793.4 675.0,3853.3 733.3,3853.3" fill="#0000ff" />
</g>
<g clip-path="url(#t13)">
<rect x="719.0" y="3399.0" width="442.0" height="422.0" fill="#0000ff"/>
<polygon points="703.8,3557.0 720.0,3558.6 833.3,3571.6 881.9,3581.3 946.6,3646.1 1011.4,3697.9 1140.9,3740.0 1173.3,3744.8 1173.3,3383.8 703.8,3383.8" fill="#0046ff" />
<polygon points="703.8,3527.9 930.4,3527.9 946.6,3545.7 1027.6,3633.1 1140.9,3691.4 1173.3,3686.5 1173.3,3383.8 703.8,3383.8" fill="#0091ff" />
<polygon points="703.8,3502.0 720.0,3500.4 833.3,3484.2 930.4,3459.9 1004.9,3474.5 1037.3,3513.3 1053.5,3574.8 1076.1,3600.7 1140.9,3639.6 1173.3,3623.4 1173.3,3383.8 703.8,3383.8" fill="#00dcff" />
<polygon points="703.8,3472.8 720.0,3468.0 800.9,3445.3 881.9,3409.7 907.8,3383.8 703.8,3383.8" fill="#00ffdc" />
<polygon points="703.8,3446.9 720.0,3442.1 800.9,3416.2 849.5,3383.8 703.8,3383.8" fill="#00ff8c" />
<polygon points="703.8,3434.0 720.0,3430.8 784.8,3404.9 810.7,3383.8 703.8,3383.8" fill="#00ff5f" />
<polygon points="703.8,3424.3 720.0,3419.4 775.0,3383.8 703.8,3383.8" fill="#00ff00" />
<polygon points="1134.4,3578.1 1144.1,3565.1 1153.8,3578.1 1144.1,3591.0" fill="#00ffdc" />
</g>
<g clip-path="url(#t14)">
<rect x="1159.0" y="3399.0" width="222.0" height="422.0" fill="#00dcff"/>
<polygon points="1143.8,3636.4 1160.0,3626.6 1208.6,3594.3 1250.7,3497.1 1354.3,3471.2 1380.2,3480.9 1451.4,3591.0 1470.8,3691.4 1496.7,3793.4 1496.7,3853.3 1143.8,3853.3" fill="#0091ff" />
<polygon points="1143.8,3691.4 1160.0,3684.9 1257.1,3633.1 1273.3,3584.5 1354.3,3523.0 1406.1,3578.1 1409.3,3793.4 1409.3,3853.3 1143.8,3853.3" fill="#0046ff" />
<polygon points="1339.7,3581.3 1355.9,3568.4 1367.2,3584.5 1355.9,3662.3" fill="#0000ff" />
<polygon points="1143.8,3744.8 1160.0,3746.4 1240.9,3759.4 1260.4,3772.3 1276.6,3793.4 1276.6,3853.3 1143.8,3853.3" fill="#0000ff" />
<polygon points="1302.5,3383.8 1309.9,3400.0 1360.1,3420.1 1420.0,3400.0 1425.5,3383.8" fill="#00ffdc" />
</g>
<g clip-path="url(#t15)">
<rect x="1379.0" y="3399.0" width="432.0" height="422.0" fill="#00dcff"/>
<polygon points="1347.6,3383.8 1359.9,3420.1 1420.1,3400.0 1425.3,3383.8" fill="#00ffdc" />
<polygon points="1554.8,3383.8 1554.8,3400.0 1690.8,3471.2 1752.3,3574.8 1742.6,3659.0 1700.5,3793.4 1700.5,3853.3 1800.9,3853.3 1800.9,3383.8" fill="#0091ff" />
<polygon points="1703.8,3383.8 1703.8,3400.0 1784.7,3448.6 1800.9,3458.3 1800.9,3383.8" fill="#0046ff" />
<polygon points="1363.8,3458.3 1380.0,3477.7 1448.0,3581.3 1464.2,3684.9 1499.8,3793.4 1499.8,3853.3 1363.8,3853.3" fill="#0091ff" />
<polygon points="1363.8,3529.5 1380.0,3542.5 1407.5,3574.8 1407.5,3853.3 1363.8,3853.3" fill="#0046ff" />
<polygon points="1490.1,3584.5 1554.8,3477.7 1574.3,3469.6 1690.8,3584.5 1681.1,3626.6 1574.3,3769.1 1509.5,3659.0" fill="#00ffdc" />
<polygon points="1530.6,3584.5 1574.3,3524.7 1632.5,3584.5 1574.3,3681.7" fill="#00ff8c" />
<polygon points="1564.5,3584.5 1574.3,3571.6 1584.0,3584.5 1574.3,3597.5" fill="#00ff5f" />
</g>
<g clip-path="url(#t16)">
<rect x="559.0" y="2959.0" width="442.0" height="442.0" fill="#00ffdc"/>
<polygon points="543.8,3244.9 560.0,3251.4 573.0,3316.1 582.7,3367.9 560.0,3400.0 543.8,3413.3" fill="#00dcff" />
<polygon points="900.0,3413.3 932.3,3380.9 1000.0,3348.5 1013.3,3345.3 1013.3,3413.3" fill="#00dcff" />
<polygon points="731.6,2943.8 731.6,2960.0 705.7,3024.8 666.8,3050.7 647.4,3121.9 624.8,3251.4 616.7,3400.0 615.0,3413.3 754.3,3413.3 770.4,3406.8 851.4,3380.9 1000.0,3325.9 1013.3,3322.6 1013.3,2943.8" fill="#00ff8c" />
<polygon points="773.7,2943.8 773.7,2960.0 751.0,3057.1 746.2,3154.3 742.9,3244.9 686.3,3293.5 668.5,3364.7 689.5,3406.8 754.3,3403.6 840.1,3364.7 883.8,3325.9 1000.0,3283.8 1013.3,3280.5 1013.3,2943.8" fill="#00ff5f" />
<polygon points="793.1,2943.8 793.1,2960.0 770.4,3057.1 765.6,3154.3 764.0,3251.4 705.7,3300.0 689.5,3364.7 705.7,3390.6 741.3,3380.9 793.1,3316.1 819.0,3293.5 883.8,3283.8 1000.0,3248.2 1013.3,3244.9 1013.3,2943.8" fill="#00ff00" />
</g>
<g clip-path="url(#t17)">
<rect x="999.0" y="2959.0" width="442.0" height="442.0" fill="#00ffdc"/>
<polygon points="1343.2,2943.8 1343.2,2960.0 1348.1,3057.1 1352.9,3121.9 1388.5,3219.0 1433.8,3361.5 1417.7,3413.3 1453.3,3413.3 1453.3,2943.8" fill="#00dcff" />
<polygon points="983.8,3348.5 1000.0,3345.3 1080.9,3325.9 1145.7,3319.4 1194.3,3342.0 1259.0,3374.4 1307.6,3400.0 1323.8,3413.3 983.8,3413.3" fill="#00dcff" />
<polygon points="1108.5,3367.9 1142.5,3360.8 1163.5,3368.6 1142.5,3398.7" fill="#0091ff" />
<polygon points="1348.1,3363.1 1357.8,3353.4 1367.5,3363.1 1357.8,3372.8" fill="#00ff8c" />
<polygon points="1310.8,2943.8 1310.8,2960.0 1304.3,3089.5 1291.4,3170.4 1255.8,3251.4 1161.9,3287.0 1000.0,3316.1 983.8,3317.8 983.8,2943.8" fill="#00ff8c" />
<polygon points="1291.4,2943.8 1291.4,2960.0 1284.9,3089.5 1272.0,3164.0 1236.4,3235.2 1152.2,3264.3 1000.0,3283.8 983.8,3285.4 983.8,2943.8" fill="#00ff5f" />
<polygon points="1268.7,2943.8 1268.7,2960.0 1259.0,3089.5 1246.1,3154.3 1210.4,3206.1 1129.5,3228.7 1000.0,3251.4 983.8,3253.0 983.8,2943.8" fill="#00ff00" />
</g>
<g clip-path="url(#t18)">
<rect x="1109.0" y="2269.0" width="702.0" height="702.0" fill="#00dcff"/>
<polygon points="1810.5,2595.2 1790.0,2600.2 1685.4,2680.3 1510.3,2725.3 1535.3,2825.4 1575.3,2870.4 1790.0,2875.4 1810.5,2875.4" fill="#0091ff" />
<polygon points="1110.0,2755.3 1160.0,2750.3 1217.6,2725.3 1180.1,2505.2 1245.1,2410.1 1360.2,2420.1 1390.2,2390.1 1460.3,2294.0 1460.3,2265.0 1085.0,2265.0 1085.0,2757.8" fill="#0091ff" />
<polygon points="1550.3,2715.3 1675.4,2695.3 1790.0,2665.3 1810.5,2660.3 1810.5,2785.4 1790.0,2782.9 1575.3,2772.9" fill="#0046ff" />
<polygon points="1110.0,2740.3 1175.0,2715.3 1145.0,2440.1 1125.0,2397.6 1245.1,2365.1 1360.2,2400.1 1420.2,2294.0 1420.2,2265.0 1085.0,2265.0 1085.0,2740.3" fill="#0046ff" />
<polygon points="1085.0,2355.0 1110.0,2355.0 1140.0,2335.0 1235.1,2325.0 1355.2,2350.0 1382.7,2294.0 1382.7,2265.0 1085.0,2265.0" fill="#0000ff" />
<polygon points="1490.3,2265.0 1490.3,2294.0 1430.2,2385.1 1370.2,2435.1 1255.1,2435.1 1210.1,2510.2 1260.1,2725.3 1175.0,2770.4 1110.0,2785.4 1085.0,2787.9 1085.0,2990.5 1335.2,2990.5 1335.2,2970.0 1350.2,2890.4 1435.2,2830.4 1460.3,2740.3 1510.3,2725.3 1610.4,2675.3 1725.5,2630.3 1790.0,2570.2 1810.5,2555.2 1810.5,2265.0" fill="#00ffdc" />
<polygon points="1525.3,2265.0 1525.3,2294.0 1450.3,2390.1 1375.2,2445.1 1260.1,2455.1 1230.1,2510.2 1295.1,2720.3 1260.1,2755.3 1160.0,2800.4 1110.0,2805.4 1085.0,2807.9 1085.0,2990.5 1320.2,2990.5 1320.2,2970.0 1330.2,2850.4 1380.2,2815.4 1390.2,2790.4 1420.2,2740.3 1510.3,2710.3 1595.4,2655.3 1710.4,2600.2 1755.5,2500.2 1700.4,2294.0 1700.4,2265.0" fill="#00ff8c" />
<polygon points="1242.6,2505.2 1260.1,2475.1 1377.7,2452.6 1455.3,2397.6 1560.3,2302.5 1610.4,2320.0 1685.4,2345.0 1735.5,2505.2 1690.4,2585.2 1585.3,2635.3 1500.3,2690.3 1365.2,2765.3 1310.1,2690.3" fill="#00ff5f" />
<polygon points="1085.0,2817.9 1110.0,2817.9 1160.0,2817.9 1245.1,2840.4 1280.1,2915.5 1295.1,2970.0 1295.1,2990.5 1085.0,2990.5" fill="#00ff5f" />
<polygon points="1255.1,2500.2 1380.2,2460.1 1460.3,2405.1 1570.3,2315.0 1675.4,2365.1 1715.4,2505.2 1675.4,2570.2 1575.3,2615.2 1490.3,2675.3 1360.2,2747.8 1320.2,2670.3" fill="#00ff00" />
<polygon points="1085.0,2830.4 1110.0,2830.4 1160.0,2835.4 1235.1,2855.4 1260.1,2915.5 1275.1,2970.0 1275.1,2990.5 1085.0,2990.5" fill="#00ff00" />
<polygon points="1325.2,2505.2 1460.3,2480.1 1575.3,2375.1 1605.4,2410.1 1610.4,2510.2 1580.3,2535.2 1360.2,2570.2 1345.2,2540.2" fill="#c8ff00" />
<polygon points="1355.2,2510.2 1470.3,2490.1 1575.3,2390.1 1580.3,2510.2 1460.3,2515.2 1360.2,2517.7" fill="#ffdc00" />
</g>
<polygon points="870.0,3149.0 938.0,3049.0 1035.0,2935.0 1145.0,2900.0 1190.0,2935.0 1184.0,2961.0 1142.0,3058.0 1035.0,3146.0 935.0,3201.0" fill="#c8ff00" />
<polygon points="905.0,3149.0 935.0,3092.0 1030.0,2996.0 1085.0,2935.0 1138.0,2922.0 1158.0,2948.0 1145.0,3000.0 1042.0,3086.0 992.0,3142.0 935.0,3172.0" fill="#ffdc00" />
</g></g>
<g stroke="#000" fill="none">
<line x1="287" y1="2294" x2="287" y2="3803" stroke-width="9"/>
<line x1="282.5" y1="3798.5" x2="1928" y2="3798.5" stroke-width="9"/>
<line x1="290" y1="3782.8" x2="310" y2="3782.8" stroke-width="3" stroke-opacity="0.8"/>
<line x1="290" y1="3721.4" x2="310" y2="3721.4" stroke-width="3" stroke-opacity="0.8"/>
<line x1="290" y1="3660.0" x2="326" y2="3660.0" stroke-width="8"/>
<line x1="290" y1="3598.6" x2="310" y2="3598.6" stroke-width="3" stroke-opacity="0.8"/>
<line x1="290" y1="3537.2" x2="310" y2="3537.2" stroke-width="3" stroke-opacity="0.8"/>
<line x1="290" y1="3475.8" x2="310" y2="3475.8" stroke-width="3" stroke-opacity="0.8"/>
<line x1="290" y1="3414.4" x2="310" y2="3414.4" stroke-width="3" stroke-opacity="0.8"/>
<line x1="290" y1="3353.0" x2="326" y2="3353.0" stroke-width="8"/>
<line x1="290" y1="3291.6" x2="310" y2="3291.6" stroke-width="3" stroke-opacity="0.8"/>
<line x1="290" y1="3230.2" x2="310" y2="3230.2" stroke-width="3" stroke-opacity="0.8"/>
<line x1="290" y1="3168.8" x2="310" y2="3168.8" stroke-width="3" stroke-opacity="0.8"/>
<line x1="290" y1="3107.4" x2="310" y2="3107.4" stroke-width="3" stroke-opacity="0.8"/>
<line x1="290" y1="3046.0" x2="326" y2="3046.0" stroke-width="8"/>
<line x1="290" y1="2984.6" x2="310" y2="2984.6" stroke-width="3" stroke-opacity="0.8"/>
<line x1="290" y1="2923.2" x2="310" y2="2923.2" stroke-width="3" stroke-opacity="0.8"/>
<line x1="290" y1="2861.8" x2="310" y2="2861.8" stroke-width="3" stroke-opacity="0.8"/>
<line x1="290" y1="2800.4" x2="310" y2="2800.4" stroke-width="3" stroke-opacity="0.8"/>
<line x1="290" y1="2739.0" x2="326" y2="2739.0" stroke-width="8"/>
<line x1="290" y1="2677.6" x2="310" y2="2677.6" stroke-width="3" stroke-opacity="0.8"/>
<line x1="290" y1="2616.2" x2="310" y2="2616.2" stroke-width="3" stroke-opacity="0.8"/>
<line x1="290" y1="2554.8" x2="310" y2="2554.8" stroke-width="3" stroke-opacity="0.8"/>
<line x1="290" y1="2493.4" x2="310" y2="2493.4" stroke-width="3" stroke-opacity="0.8"/>
<line x1="290" y1="2432.0" x2="326" y2="2432.0" stroke-width="8"/>
<line x1="290" y1="2370.6" x2="310" y2="2370.6" stroke-width="3" stroke-opacity="0.8"/>
<line x1="290" y1="2309.2" x2="310" y2="2309.2" stroke-width="3" stroke-opacity="0.8"/>
<line x1="301.6" y1="3775" x2="301.6" y2="3798" stroke-width="3.5" stroke-opacity="0.75"/>
<line x1="362.8" y1="3775" x2="362.8" y2="3798" stroke-width="3.5" stroke-opacity="0.75"/>
<line x1="424.0" y1="3759" x2="424.0" y2="3798" stroke-width="8.5"/>
<line x1="485.2" y1="3775" x2="485.2" y2="3798" stroke-width="3.5" stroke-opacity="0.75"/>
<line x1="546.4" y1="3775" x2="546.4" y2="3798" stroke-width="3.5" stroke-opacity="0.75"/>
<line x1="607.6" y1="3775" x2="607.6" y2="3798" stroke-width="3.5" stroke-opacity="0.75"/>
<line x1="668.8" y1="3775" x2="668.8" y2="3798" stroke-width="3.5" stroke-opacity="0.75"/>
<line x1="730.0" y1="3759" x2="730.0" y2="3798" stroke-width="8.5"/>
<line x1="791.2" y1="3775" x2="791.2" y2="3798" stroke-width="3.5" stroke-opacity="0.75"/>
<line x1="852.4" y1="3775" x2="852.4" y2="3798" stroke-width="3.5" stroke-opacity="0.75"/>
<line x1="913.6" y1="3775" x2="913.6" y2="3798" stroke-width="3.5" stroke-opacity="0.75"/>
<line x1="974.8" y1="3775" x2="974.8" y2="3798" stroke-width="3.5" stroke-opacity="0.75"/>
<line x1="1036.0" y1="3759" x2="1036.0" y2="3798" stroke-width="8.5"/>
<line x1="1097.2" y1="3775" x2="1097.2" y2="3798" stroke-width="3.5" stroke-opacity="0.75"/>
<line x1="1158.4" y1="3775" x2="1158.4" y2="3798" stroke-width="3.5" stroke-opacity="0.75"/>
<line x1="1219.6" y1="3775" x2="1219.6" y2="3798" stroke-width="3.5" stroke-opacity="0.75"/>
<line x1="1280.8" y1="3775" x2="1280.8" y2="3798" stroke-width="3.5" stroke-opacity="0.75"/>
<line x1="1342.0" y1="3759" x2="1342.0" y2="3798" stroke-width="8.5"/>
<line x1="1403.2" y1="3775" x2="1403.2" y2="3798" stroke-width="3.5" stroke-opacity="0.75"/>
<line x1="1464.4" y1="3775" x2="1464.4" y2="3798" stroke-width="3.5" stroke-opacity="0.75"/>
<line x1="1525.6" y1="3775" x2="1525.6" y2="3798" stroke-width="3.5" stroke-opacity="0.75"/>
<line x1="1586.8" y1="3775" x2="1586.8" y2="3798" stroke-width="3.5" stroke-opacity="0.75"/>
<line x1="1648.0" y1="3759" x2="1648.0" y2="3798" stroke-width="8.5"/>
<line x1="1709.2" y1="3775" x2="1709.2" y2="3798" stroke-width="3.5" stroke-opacity="0.75"/>
<line x1="1770.4" y1="3775" x2="1770.4" y2="3798" stroke-width="3.5" stroke-opacity="0.75"/>
<line x1="1831.6" y1="3775" x2="1831.6" y2="3798" stroke-width="3.5" stroke-opacity="0.75"/>
<line x1="1892.8" y1="3775" x2="1892.8" y2="3798" stroke-width="3.5" stroke-opacity="0.75"/>
</g>
<text x="261" y="3680.0" font-size="59" text-anchor="end" stroke="#111" stroke-width="0.8">-20</text>
<text x="261" y="3373.0" font-size="59" text-anchor="end" stroke="#111" stroke-width="0.8">-10</text>
<text x="261" y="3066.0" font-size="59" text-anchor="end" stroke="#111" stroke-width="0.8">0</text>
<text x="261" y="2759.0" font-size="59" text-anchor="end" stroke="#111" stroke-width="0.8">10</text>
<text x="261" y="2452.0" font-size="59" text-anchor="end" stroke="#111" stroke-width="0.8">20</text>
<text x="422.0" y="3860" font-size="59" text-anchor="middle" stroke="#111" stroke-width="0.8">-20</text>
<text x="728.0" y="3860" font-size="59" text-anchor="middle" stroke="#111" stroke-width="0.8">-10</text>
<text x="1036.0" y="3860" font-size="59" text-anchor="middle" stroke="#111" stroke-width="0.8">0</text>
<text x="1342.0" y="3860" font-size="59" text-anchor="middle" stroke="#111" stroke-width="0.8">10</text>
<text x="1648.0" y="3860" font-size="59" text-anchor="middle" stroke="#111" stroke-width="0.8">20</text>
<text x="950" y="3924" font-size="70" font-weight="bold" textLength="315" lengthAdjust="spacingAndGlyphs">X Axis[%]</text>
<text transform="translate(155,3204) rotate(-90)" font-size="72" font-weight="bold" textLength="314" lengthAdjust="spacingAndGlyphs">Y Axis[%]</text>
<rect x="587.0" y="2087" width="43.2" height="88" fill="#0000ff"/>
<rect x="629.6" y="2087" width="82.0" height="88" fill="#0046ff"/>
<rect x="711.0" y="2087" width="81.6" height="88" fill="#0091ff"/>
<rect x="792.0" y="2087" width="83.6" height="88" fill="#00dcff"/>
<rect x="875.0" y="2087" width="84.1" height="88" fill="#00ffdc"/>
<rect x="958.5" y="2087" width="82.1" height="88" fill="#00ff8c"/>
<rect x="1040.0" y="2087" width="83.4" height="88" fill="#00ff28"/>
<rect x="1122.8" y="2087" width="82.8" height="88" fill="#00ff00"/>
<rect x="1205.0" y="2087" width="80.6" height="88" fill="#0aff00"/>
<rect x="1285.0" y="2087" width="85.0" height="88" fill="#32ff00"/>
<rect x="1369.4" y="2087" width="78.2" height="88" fill="#c8ff00"/>
<rect x="1447.0" y="2087" width="85.6" height="88" fill="#ffdc00"/>
<rect x="1532.0" y="2087" width="85.3" height="88" fill="#ff9600"/>
<rect x="1616.7" y="2087" width="78.9" height="88" fill="#ff4600"/>
<rect x="1695.0" y="2087" width="42.6" height="88" fill="#ff0000"/>
<line x1="629.6" y1="2087" x2="629.6" y2="2175" stroke="#000" stroke-width="2.5"/>
<line x1="875.0" y1="2087" x2="875.0" y2="2175" stroke="#000" stroke-width="2.5"/>
<line x1="1122.8" y1="2087" x2="1122.8" y2="2175" stroke="#000" stroke-width="2.5"/>
<line x1="1369.4" y1="2087" x2="1369.4" y2="2175" stroke="#000" stroke-width="2.5"/>
<line x1="1616.7" y1="2087" x2="1616.7" y2="2175" stroke="#000" stroke-width="2.5"/>
<rect x="587" y="2087" width="1150" height="88" fill="none" stroke="#000" stroke-width="3"/>
<text x="625.6" y="2247" font-size="57" text-anchor="middle" stroke="#111" stroke-width="0.8">1</text>
<text x="871.0" y="2247" font-size="57" text-anchor="middle" stroke="#111" stroke-width="0.8">2</text>
<text x="1118.8" y="2247" font-size="57" text-anchor="middle" stroke="#111" stroke-width="0.8">3</text>
<text x="1365.4" y="2247" font-size="57" text-anchor="middle" stroke="#111" stroke-width="0.8">4</text>
<text x="1612.7" y="2247" font-size="57" text-anchor="middle" stroke="#111" stroke-width="0.8">5</text>
<text x="104" y="2246" font-size="57" textLength="460" lengthAdjust="spacingAndGlyphs" stroke="#111" stroke-width="0.8">Concentration[%]:</text>
<text class="cap" x="684" y="4092" font-size="85" textLength="833" lengthAdjust="spacingAndGlyphs">(<tspan font-weight="bold">b</tspan>) Concentration field</text>
</g>
</svg>
</body></html>
